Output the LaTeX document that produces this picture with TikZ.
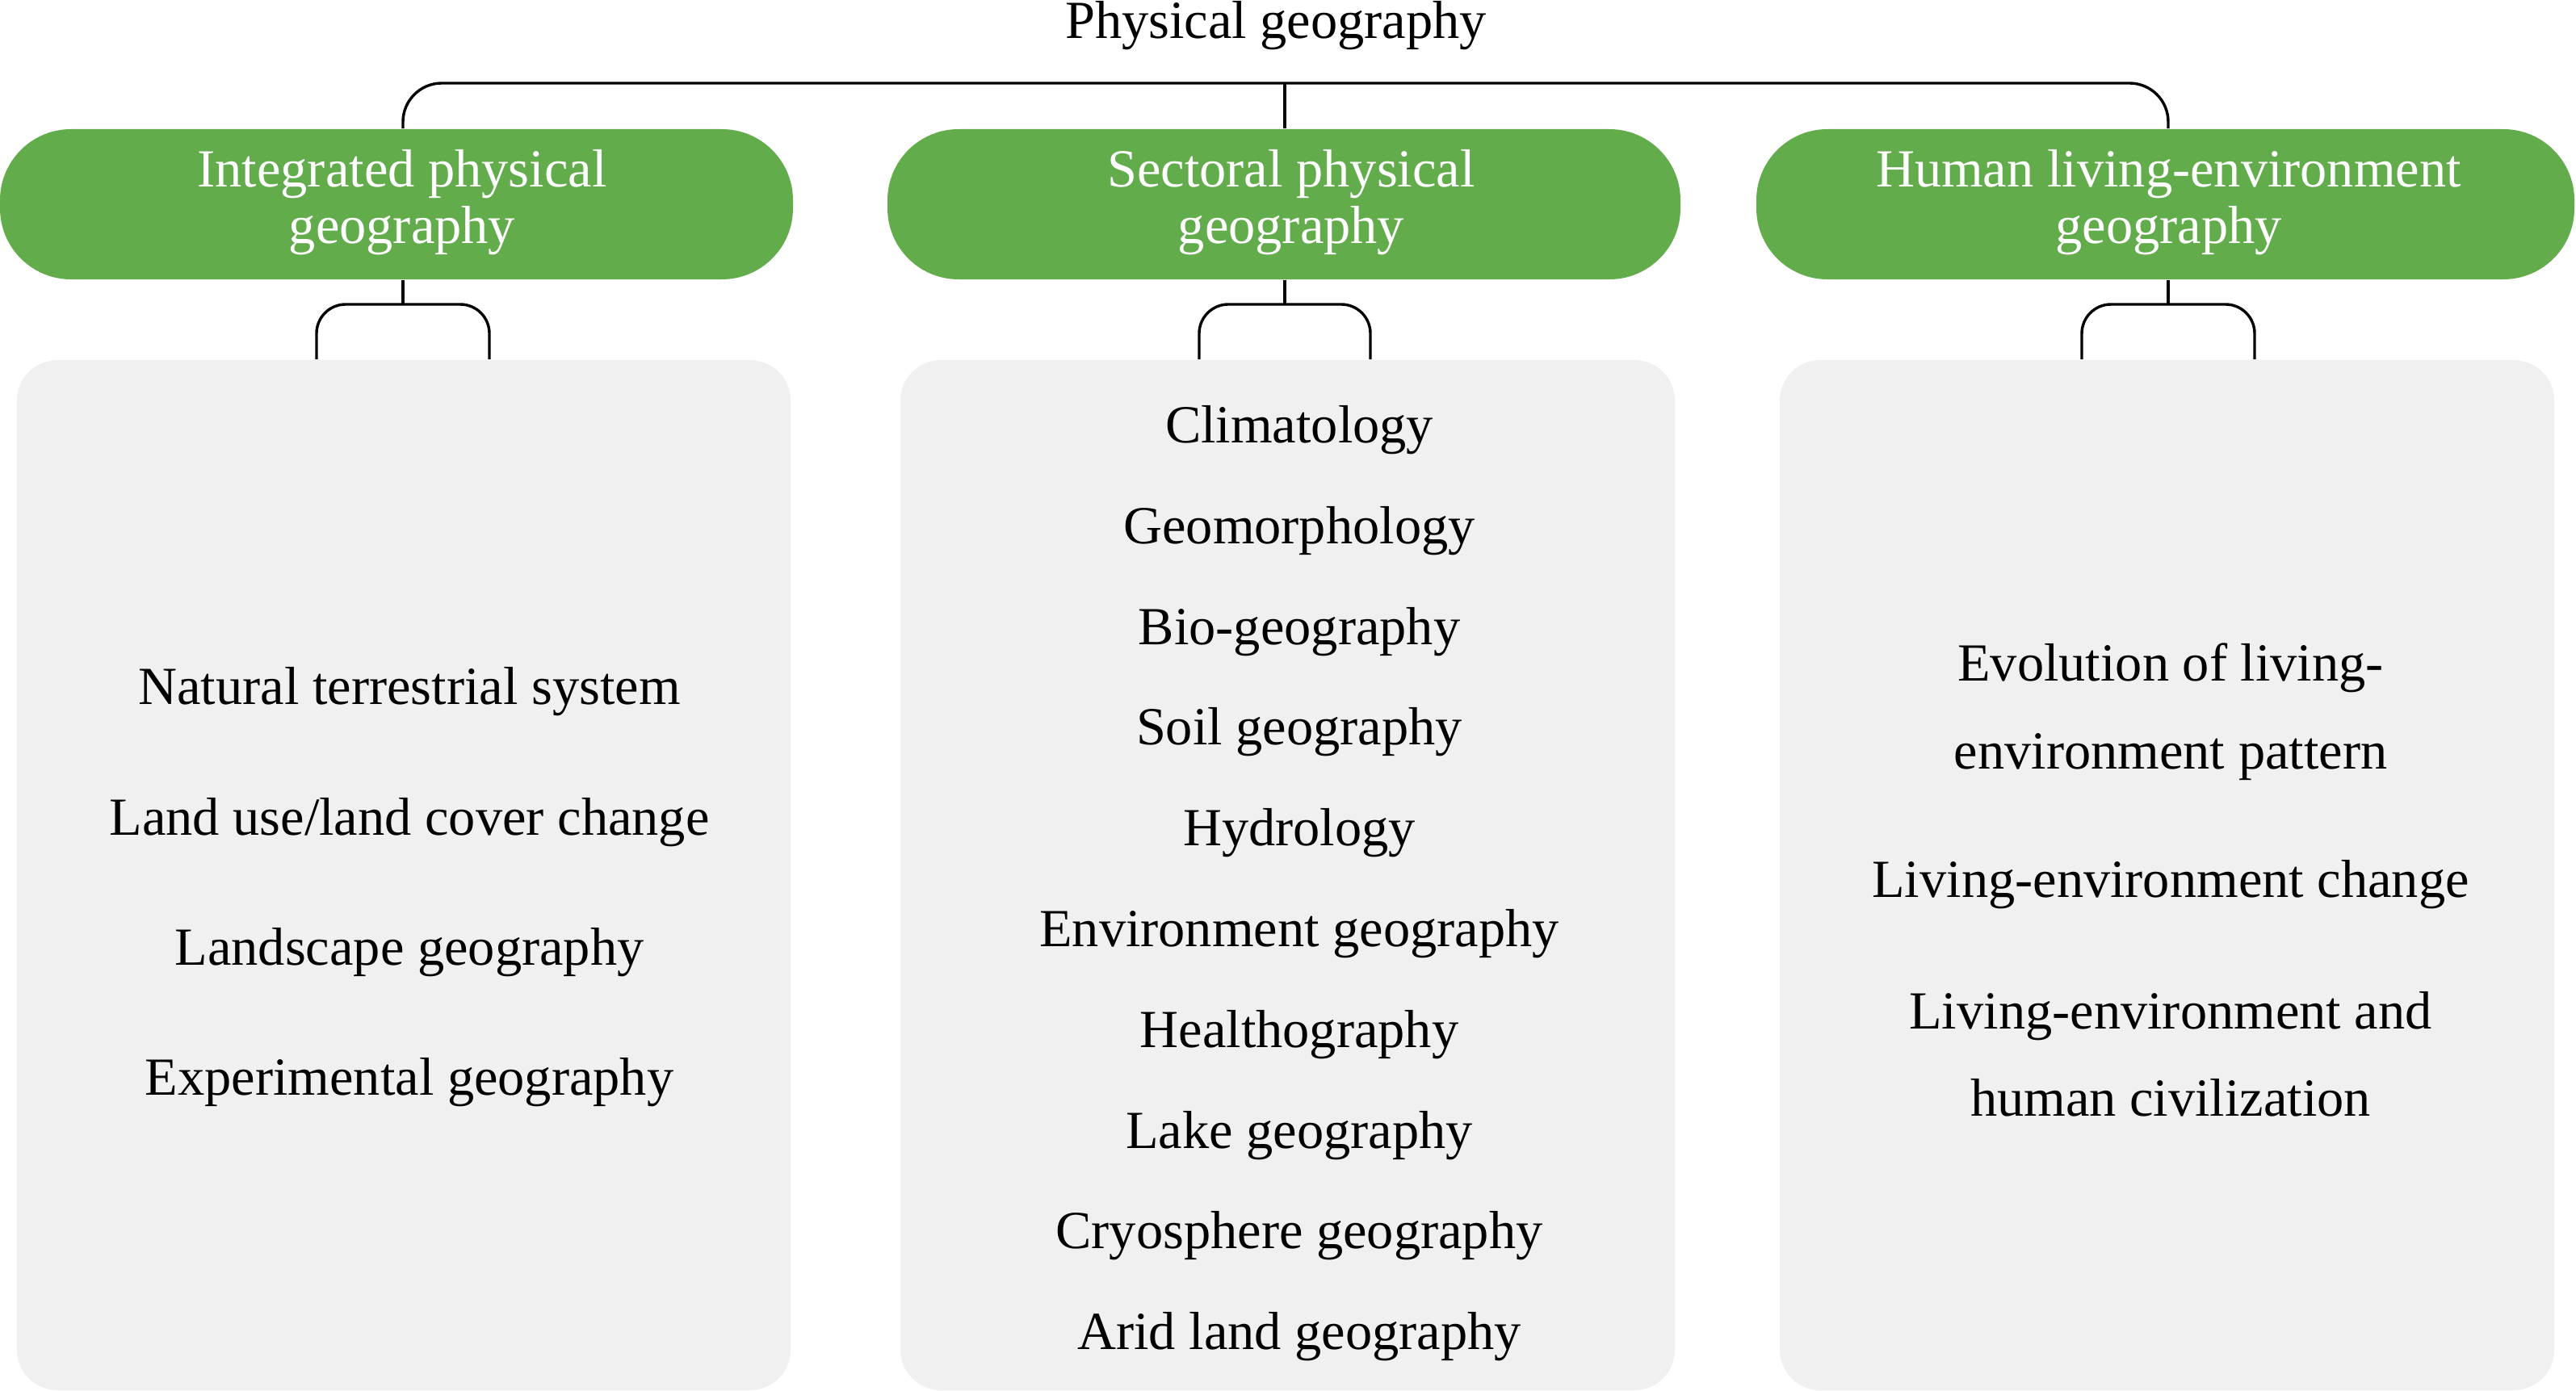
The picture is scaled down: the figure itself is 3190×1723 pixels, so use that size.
\documentclass[tikz,border=0pt]{standalone}
\usepackage{fontspec}
\setmainfont{Liberation Serif}
\usetikzlibrary{calc}
\definecolor{gr}{HTML}{62AC4C}
\definecolor{lg}{HTML}{F0F0F0}
\begin{document}
\begin{tikzpicture}[x=0.25pt,y=-0.25pt,
  txt/.style={font=\fontsize{16.6pt}{17.5pt}\selectfont, inner sep=0pt},
  gbox/.style={fill=gr, rounded corners=22pt, minimum height=46.5pt, inner sep=0pt},
  gtext/.style={txt, text=white, align=center},
  pbox/.style={fill=lg, rounded corners=12.5pt, minimum height=319pt, inner sep=0pt},
  item/.style={txt, anchor=base},
  conn/.style={line width=0.85pt, draw=black}]
\useasboundingbox (0,0) rectangle (3190,1723);

% title
\node[item] (title) at (1580,48) {Physical geography};

% green category boxes
\node[gbox, minimum width=245.5pt] (g1) at (491,253) {};
\node[gbox, minimum width=245.5pt] (g2) at (1590,253) {};
\node[gbox, minimum width=253.25pt] (g3) at (2681.5,253) {};
\node[gtext] (t1) at ($(g1.center)+(7,-2)$) {Integrated physical\\geography};
\node[gtext] (t2) at ($(g2.center)+(9,-2)$) {Sectoral physical\\geography};
\node[gtext] (t3) at ($(g3.center)+(4,-2)$) {Human living-environment\\geography};

% grey panels
\node[pbox, minimum width=239.5pt] (p1) at (500,1084) {};
\node[pbox, minimum width=239.75pt] (p2) at (1594.5,1084) {};
\node[pbox, minimum width=239.75pt] (p3) at (2683.5,1084) {};

% column axes
\coordinate (c1) at (499,0);
\coordinate (c2) at (1591,0);
\coordinate (c3) at (2685,0);
\coordinate (bar) at (1591,103);

% top connector
\draw[conn, rounded corners=12pt] (g1.north -| c1) |- (bar) -| (g3.north -| c3);
\draw[conn] (bar) -- (g2.north -| c2);

% brackets
\coordinate (b1) at (499,377);
\coordinate (b2) at (1591,377);
\coordinate (b3) at (2685,377);
\draw[conn] (g1.south -| c1) -- (b1);
\draw[conn] (g2.south -| c2) -- (b2);
\draw[conn] (g3.south -| c3) -- (b3);
\draw[conn, rounded corners=9pt] ($(p1.north -| c1)+(-107,0)$) |- (b1) -| ($(p1.north -| c1)+(107,0)$);
\draw[conn, rounded corners=9pt] ($(p2.north -| c2)+(-106,0)$) |- (b2) -| ($(p2.north -| c2)+(106,0)$);
\draw[conn, rounded corners=9pt] ($(p3.north -| c3)+(-107,0)$) |- (b3) -| ($(p3.north -| c3)+(107,0)$);

% column 1 items
\node[item] (a1) at (507,872) {Natural terrestrial system};
\node[item] (a2) at (507,1034) {Land use/land cover change};
\node[item] (a3) at (507,1195) {Landscape geography};
\node[item] (a4) at (507,1356) {Experimental geography};

% column 2 items
\node[item] (s1) at (1609,548) {Climatology};
\node[item] (s2) at (1609,673) {Geomorphology};
\node[item] (s3) at (1609,798) {Bio-geography};
\node[item] (s4) at (1609,922) {Soil geography};
\node[item] (s5) at (1609,1047) {Hydrology};
\node[item] (s6) at (1609,1172) {Environment geography};
\node[item] (s7) at (1609,1297) {Healthography};
\node[item] (s8) at (1609,1422) {Lake geography};
\node[item] (s9) at (1609,1546) {Cryosphere geography};
\node[item] (s10) at (1609,1671) {Arid land geography};

% column 3 items
\node[item] (h1a) at (2688,843) {Evolution of living-};
\node[item] (h1b) at (2688,952) {environment pattern};
\node[item] (h2) at (2688,1111) {Living-environment change};
\node[item] (h3a) at (2688,1274) {Living-environment and};
\node[item] (h3b) at (2688,1382) {human civilization};
\end{tikzpicture}
\end{document}
